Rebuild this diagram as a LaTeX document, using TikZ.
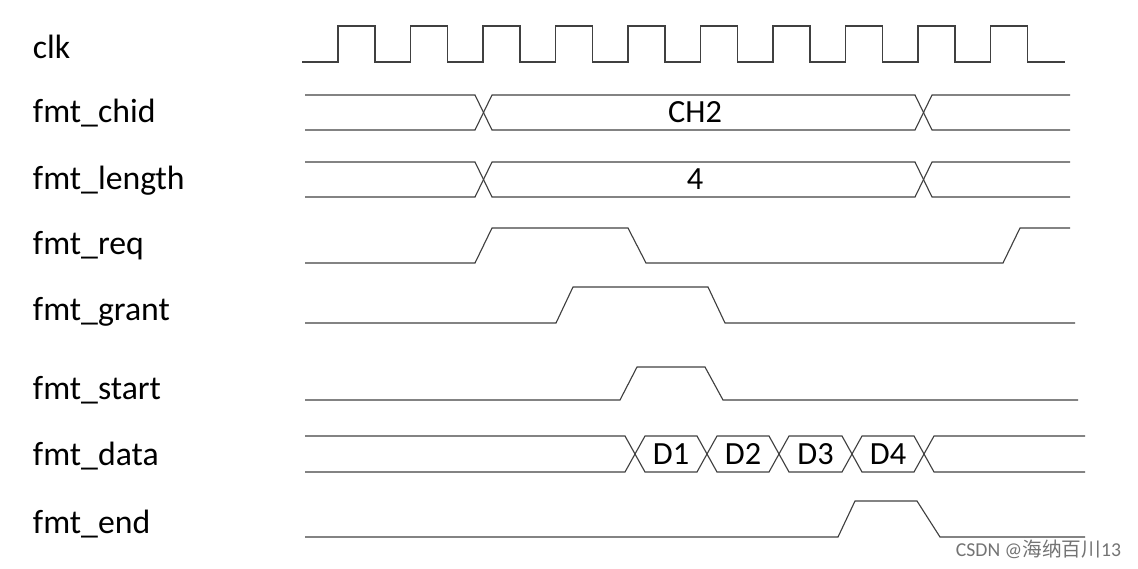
\documentclass[tikz,border=0pt]{standalone}
\usepackage{fontspec}
\setmainfont{Carlito}
\newfontfamily\cjk{Noto Sans CJK SC}
\usetikzlibrary{positioning}

\tikzset{
  wave/.style={color=black!75, thick},
  sig/.style={anchor=west, font=\fontsize{24}{26}\selectfont},
  val/.style={font=\fontsize{23}{25}\selectfont}
}

\begin{document}
\begin{tikzpicture}[x=0.025cm, y=-0.025cm]
	\useasboundingbox (0,0) rectangle (1138,568);
	% signal names
	\foreach \name/\y in {clk/47, fmt\_chid/113, fmt\_length/181, fmt\_req/246,
		fmt\_grant/312, fmt\_start/390, fmt\_data/456, fmt\_end/524}
		\node[sig] at (28,\y) {\name};
	% clock
	\draw[wave] (302,62) \foreach \r in {338,410.5,483,555.5,628,700.5,773,845.5,918,990.5}
		{ -- (\r,62) -- (\r,26) -- (\r+37,26) -- (\r+37,62) } -- (1065,62);
	% buses
	\foreach \t/\b/\txt in {95/130/CH2, 162/197/4} {
		\draw[wave] (305,\t) -- (475,\t) -- (492,\b) -- (915,\b) -- (932,\t) -- (1070,\t);
		\draw[wave] (305,\b) -- (475,\b) -- (492,\t) -- (915,\t) -- (932,\b) -- (1070,\b);
		\node[val] at (695,{(\t+\b)/2}) {\txt};
	}
	% req, grant, start
	\draw[wave] (305,263) -- (475,263) -- (492,228) -- (628,228) -- (646,263)
		-- (1003,263) -- (1020,228) -- (1070,228);
	\draw[wave] (305,323) -- (556,323) -- (573,287) -- (708,287) -- (725,323) -- (1075,323);
	\draw[wave] (305,400) -- (620,400) -- (637,367) -- (705,367) -- (723,400) -- (1078,400);
	% data
	\draw[wave] (305,436) -- (625,436) -- (635,454);
	\draw[wave] (305,472) -- (625,472) -- (635,454);
	\foreach \a/\b/\d in {635/707/D1, 707/779/D2, 779/852/D3, 852/924/D4} {
		\draw[wave] (\a,454) -- (\a+10,436) -- (\b-10,436) -- (\b,454)
			-- (\b-10,472) -- (\a+10,472) -- cycle;
		\node[val] at ({(\a+\b)/2},454) {\d};
	}
	\draw[wave] (924,454) -- (934,436) -- (1085,436);
	\draw[wave] (924,454) -- (934,472) -- (1085,472);
	% end
	\draw[wave] (305,537) -- (838,537) -- (855,501) -- (917,501) -- (940,537) -- (1085,537);
	\node[anchor=east, color=black!55, font=\fontsize{14}{16}\selectfont] at (1126,549)
		{CSDN @{\cjk 海纳百川}13};
\end{tikzpicture}
\end{document}
